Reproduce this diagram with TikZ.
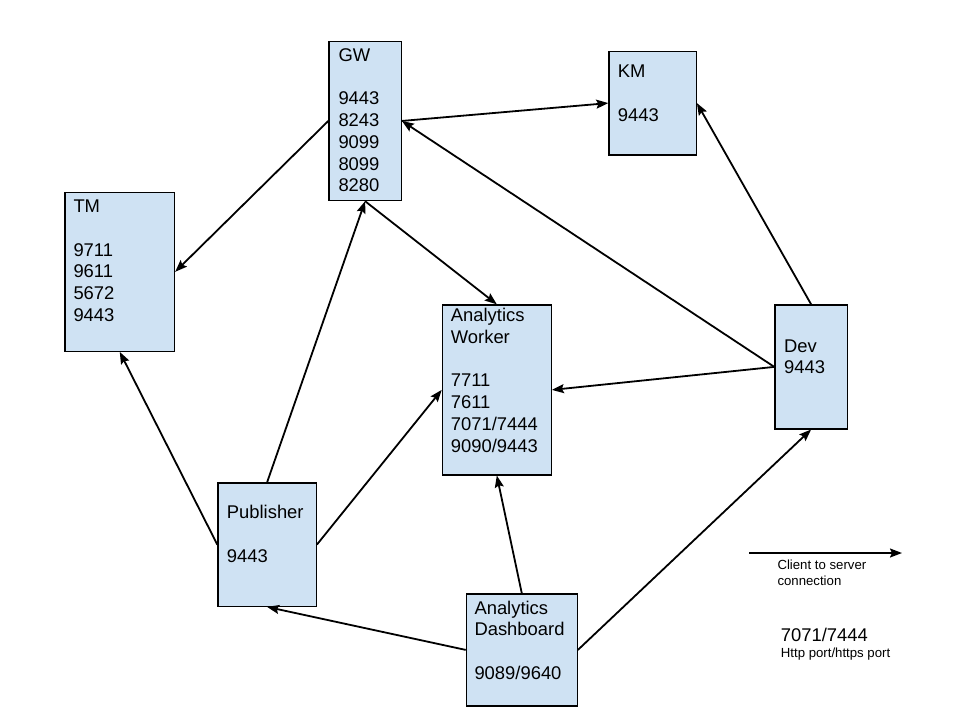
\documentclass[tikz,border=0pt]{standalone}
\usepackage{fontspec}
\setmainfont{Liberation Sans}
\usepackage{xcolor}
\usetikzlibrary{arrows.meta,calc,positioning}
\definecolor{boxblue}{HTML}{CFE2F3}

\begin{document}
\begin{tikzpicture}[x=1pt,y=-1pt,
  box/.style={draw=black,line width=1.2pt,fill=boxblue,inner sep=0pt,anchor=north west},
  port/.style={anchor=north west,inner sep=0pt,align=left,font=\fontsize{18.4}{21.7}\selectfont},
  note/.style={anchor=base west,inner sep=0pt,align=left,font=\fontsize{13.2}{16}\selectfont},
  conn/.style={line width=1.8pt,-{Stealth[length=12pt,width=9pt,inset=2pt]}}]
\useasboundingbox (0,0) rectangle (960,720);
% servers
\node[box,minimum width=72.4pt,minimum height=159.3pt] (gw) at (328.3,40.7) {};
\node[box,minimum width=87.4pt,minimum height=103.6pt] (km) at (608.3,50.7) {};
\node[box,minimum width=109.7pt,minimum height=159pt] (tm) at (64.3,191.7) {};
\node[box,minimum width=109pt,minimum height=170pt] (aw) at (441.7,304.3) {};
\node[box,minimum width=72.4pt,minimum height=124pt] (dev) at (774.3,304.3) {};
\node[box,minimum width=98.4pt,minimum height=123.4pt] (pub) at (217.3,482.3) {};
\node[box,minimum width=111pt,minimum height=112pt] (dash) at (465.7,593.3) {};
% ports
\node[port] (gwtxt) at ($(gw.north west)+(10,7.8)$) {GW\\[21.7pt]9443\\8243\\9099\\8099\\8280};
\node[port] (kmtxt) at ($(km.north west)+(9.4,14.3)$) {KM\\[21.7pt]9443};
\node[port] (tmtxt) at ($(tm.north west)+(9,8.3)$) {TM\\[21.7pt]9711\\9611\\5672\\9443};
\node[port] (awtxt) at ($(aw.north west)+(9,4)$) {Analytics\\Worker\\[21.7pt]7711\\7611\\7071/7444\\9090/9443};
\node[port] (devtxt) at ($(dev.north west)+(9.7,35)$) {Dev\\9443};
\node[port] (pubtxt) at ($(pub.north west)+(9.4,22.8)$) {Publisher\\[21.7pt]9443};
\node[port] (dashtxt) at ($(dash.north west)+(8.6,7.4)$) {Analytics\\Dashboard\\[21.7pt]9089/9640};
% client -> server
\draw[conn] (gw.east) -- (km.west);
\draw[conn] (gw.west) -- (tm.east);
\draw[conn] (gw.south) -- (aw.north);
\draw[conn] (dev.west) -- (gw.east);
\draw[conn] (dev.north) -- (km.east);
\draw[conn] (dev.west) -- (aw.east);
\draw[conn] (pub.north) -- (gw.south);
\draw[conn] (pub.west) -- (tm.south);
\draw[conn] (pub.east) -- (aw.west);
\draw[conn] (dash.north) -- (aw.south);
\draw[conn] (dash.west) -- (pub.south);
\draw[conn] (dash.east) -- (dev.south);
% legend
\coordinate (keyfrom) at (749,553);
\coordinate (keyto) at (902,553);
\draw[conn] (keyfrom) -- (keyto);
\node[note,anchor=north west] (keytxt) at (777.3,559.4) {Client to server\\connection};
\node[port,anchor=base west] (porteg) at (780.7,641.5) {7071/7444};
\node[note] (portlbl) at (780.7,657.5) {Http port/https port};
\end{tikzpicture}
\end{document}
